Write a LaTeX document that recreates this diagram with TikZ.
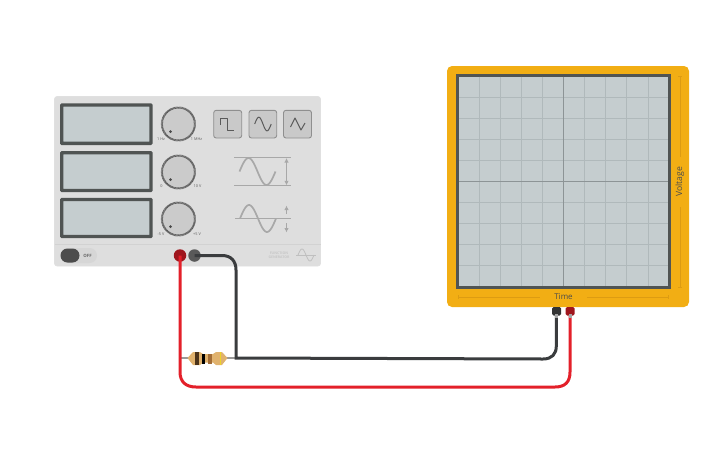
\documentclass[tikz,border=0pt]{standalone}
\usepackage{fontspec}
\setmainfont{Open Sans}
\usetikzlibrary{arrows.meta}
\definecolor{panel}{HTML}{DEDEDE}
\definecolor{panelline}{HTML}{D2D2D2}
\definecolor{lcd}{HTML}{C5CDCF}
\definecolor{lcdedge}{HTML}{505453}
\definecolor{knob}{HTML}{CBCBCB}
\definecolor{btn}{HTML}{C9C9C9}
\definecolor{icon}{HTML}{5A5A5A}
\definecolor{wave}{HTML}{A8A8A8}
\definecolor{orange}{HTML}{F2AE14}
\definecolor{orangeline}{HTML}{DD9C12}
\definecolor{gridc}{HTML}{B0B9BB}
\definecolor{wred}{HTML}{E3202A}
\definecolor{wblack}{HTML}{3A3C3E}
\definecolor{rbody}{HTML}{E0B26E}
\tikzset{
  x=1pt,y=-1pt,
  display/.style={draw=lcdedge,line width=3.4pt,fill=lcd,rounded corners=0.5pt},
  knobbase/.style={circle,draw=icon,line width=2pt,dash pattern=on 0.6pt off 0.45pt,minimum size=33pt,inner sep=0pt},
  knobdot/.style={circle,fill=icon!80!black,minimum size=3pt,inner sep=0pt},
  tiny/.style={font=\fontsize{3.8}{4}\selectfont,text=icon,inner sep=0pt},
  btnbox/.style={draw=wave!85!black,line width=0.9pt,fill=btn,rounded corners=2.5pt},
  iconline/.style={draw=icon,line width=1pt,line join=round},
  waveline/.style={draw=wave,line width=1.7pt},
  guide/.style={draw=wave,line width=1pt},
  gridline/.style={draw=gridc,line width=0.8pt},
  axisline/.style={draw=gridc!80!black,line width=1pt},
  scale label/.style={font=\fontsize{8}{9}\selectfont,text=black!70,inner sep=0pt},
  scale rule/.style={draw=orangeline,line width=0.8pt},
  wirered/.style={draw=wred,line width=3pt},
  wireblack/.style={draw=wblack,line width=3pt},
  lead/.style={draw=gray!80,line width=2.2pt},
}
\begin{document}
\begin{tikzpicture}
\useasboundingbox (0,0) rectangle (725,453);
% generator panel
\draw[draw=black!12,line width=0.6pt,fill=panel,rounded corners=2.5pt] (54.5,96.5) rectangle (320.5,266);
\draw[panelline,line width=0.8pt] (54.5,244.5) -- (320.5,244.5);
\draw[display] (61.7,105) rectangle (151,143.3);
\draw[display] (61.7,152.7) rectangle (151,190.5);
\draw[display] (61.7,199.5) rectangle (151,236.5);
% knobs
\foreach \n/\y in {ka/124,kb/172,kc/219}{
  \node[circle,fill=knob,minimum size=33pt,inner sep=0pt] at (178.4,\y) {};
  \node[knobbase] (\n) at (178.4,\y) {};
  \node[knobdot] (\n d) at (170.5,\y+7.5) {};
}
\node[tiny] (la) at (161,139.5) {1 Hz};
\node[tiny] (lb) at (196.5,139.5) {1 MHz};
\node[tiny] (lc) at (161.5,186.5) {0};
\node[tiny] (ld) at (197.5,186.5) {10 V};
\node[tiny] (le) at (161,234.5) {-5 V};
\node[tiny] (lf) at (197,234.5) {+5 V};
% buttons
\draw[btnbox] (213.7,110.3) rectangle (241.7,138);
\draw[btnbox] (249,110.3) rectangle (276.7,138);
\draw[btnbox] (283.5,110.3) rectangle (311.5,138);
\draw[iconline] (220.7,125) -- (220.7,118) -- (227,118) -- (227,130) -- (234,130);
\draw[iconline,domain=0:360,samples=40,smooth] plot ({254.7+\x/360*16.5},{124-6.8*sin(\x)});
\draw[iconline] (290.5,127) -- (295,118) -- (301,130) -- (305,123);
% wave legends
\draw[guide] (234,157.5) -- (291,157.5);
\draw[guide] (234,185.7) -- (291,185.7);
\draw[waveline,domain=0:360,samples=50,smooth] plot ({239.5+\x/360*36},{171.5-13.5*sin(\x)});
\draw[guide,{Latex[length=4.5pt,width=4.5pt]}-{Latex[length=4.5pt,width=4.5pt]}] (286.5,158) -- (286.5,185.3);
\draw[guide] (235,218.5) -- (291,218.5);
\draw[waveline,domain=0:360,samples=50,smooth] plot ({240+\x/360*36},{218.5-13.5*sin(\x)});
\draw[guide,-{Latex[length=4.5pt,width=4.5pt]}] (286.5,214) -- (286.5,205.5);
\draw[guide,-{Latex[length=4.5pt,width=4.5pt]}] (286.5,223) -- (286.5,232.5);
% switch
\draw[fill=black!16,draw=none,rounded corners=7.5pt] (60.5,248) rectangle (97,263);
\draw[fill=black!70,draw=none,rounded corners=7pt] (60.5,248.5) rectangle (79.5,262.5);
\node[font=\fontsize{4.4}{5}\selectfont\bfseries,text=black!60,inner sep=0pt] (off) at (87.5,255.5) {OFF};
% brand
\node[font=\fontsize{3.5}{4}\selectfont\bfseries,text=black!22,align=center,inner sep=0pt] (brand) at (279,255) {FUNCTION\\[-0.3pt]GENERATOR};
\draw[black!25,line width=0.8pt,domain=0:360,samples=30,smooth] plot ({298+\x/360*16},{255-6*sin(\x)});
\draw[black!25,line width=0.6pt] (296,255) -- (316,255);
% oscilloscope
\draw[fill=orange,draw=none,rounded corners=5pt] (447,66) rectangle (689,307);
\draw[fill=lcd,draw=lcdedge,line width=2.4pt] (457.5,75.5) rectangle (669.5,287.5);
\foreach \i in {1,2,3,4,6,7,8,9}{
  \draw[gridline] ({458+\i*21.1},76.7) -- ({458+\i*21.1},286.3);
  \draw[gridline] (458.8,{76+\i*21}) -- (668.2,{76+\i*21});
}
\draw[axisline] (563.5,76.7) -- (563.5,286.3);
\draw[axisline] (458.8,181.5) -- (668.2,181.5);
\draw[scale rule] (458,297) -- (540,297);
\draw[scale rule] (587,297) -- (668,297);
\draw[scale rule] (458,295) -- (458,299);
\draw[scale rule] (668,295) -- (668,299);
\draw[scale rule] (680,76) -- (680,157);
\draw[scale rule] (680,207) -- (680,287);
\draw[scale rule] (678,76) -- (682,76);
\draw[scale rule] (678,287) -- (682,287);
\node[scale label] (time) at (563.5,297) {Time};
\node[scale label,rotate=90,font=\fontsize{8.6}{9}\selectfont] (volt) at (680,182) {Voltage};
% terminals and probes
\node[circle,fill=wred!70!black,minimum size=12.5pt,inner sep=0pt] (tred) at (180,255.5) {};
\node[circle,fill=black!65,minimum size=12.5pt,inner sep=0pt] (tblack) at (194.5,255.5) {};
\draw[fill=black!80,draw=none,rounded corners=1.5pt] (552,307) rectangle (561,315.5);
\draw[fill=wred!70!black,draw=none,rounded corners=1.5pt] (565.5,307) rectangle (574.5,315.5);
\coordinate (pblack) at (556.3,316);
\coordinate (pred) at (570,316);
\coordinate (rl) at (180,358);
\coordinate (rr) at (236,358);
% resistor
\draw[lead] (rl) -- (190,358);
\draw[lead] (226,358) -- (rr);
\path[fill=rbody] (187.5,358) -- (193,352) -- (200,352) -- (203,354) -- (213,354) -- (216,352) -- (222,352) -- (227.5,358) -- (222,365) -- (216,365) -- (213,362.5) -- (203,362.5) -- (200,365) -- (193,365) -- cycle;
\fill[black!60!brown] (194.5,352) rectangle (198.5,365);
\fill[black] (201.5,353.5) rectangle (205,363.5);
\fill[brown!85!black] (208,353.5) rectangle (212,363.5);
\fill[yellow!70!brown] (220,352) rectangle (221,365);
% wires
\draw[wirered] (tred.center) -- (180,372) .. controls (180,382) and (186,387) .. (196,387) -- (555,387) .. controls (565,387) and (570,382) .. (570,372) -- (pred);
\draw[wireblack] (tblack.center) -- (222,255.5) .. controls (231,255.5) and (236,261) .. (236,270) -- (rr) -- (543,359) .. controls (552,359) and (556.3,354) .. (556.3,346) -- (pblack);
\fill[gray!70] (554.8,314) rectangle (557.8,318);
\fill[gray!70] (568.5,314) rectangle (571.5,318);
\end{tikzpicture}
\end{document}
